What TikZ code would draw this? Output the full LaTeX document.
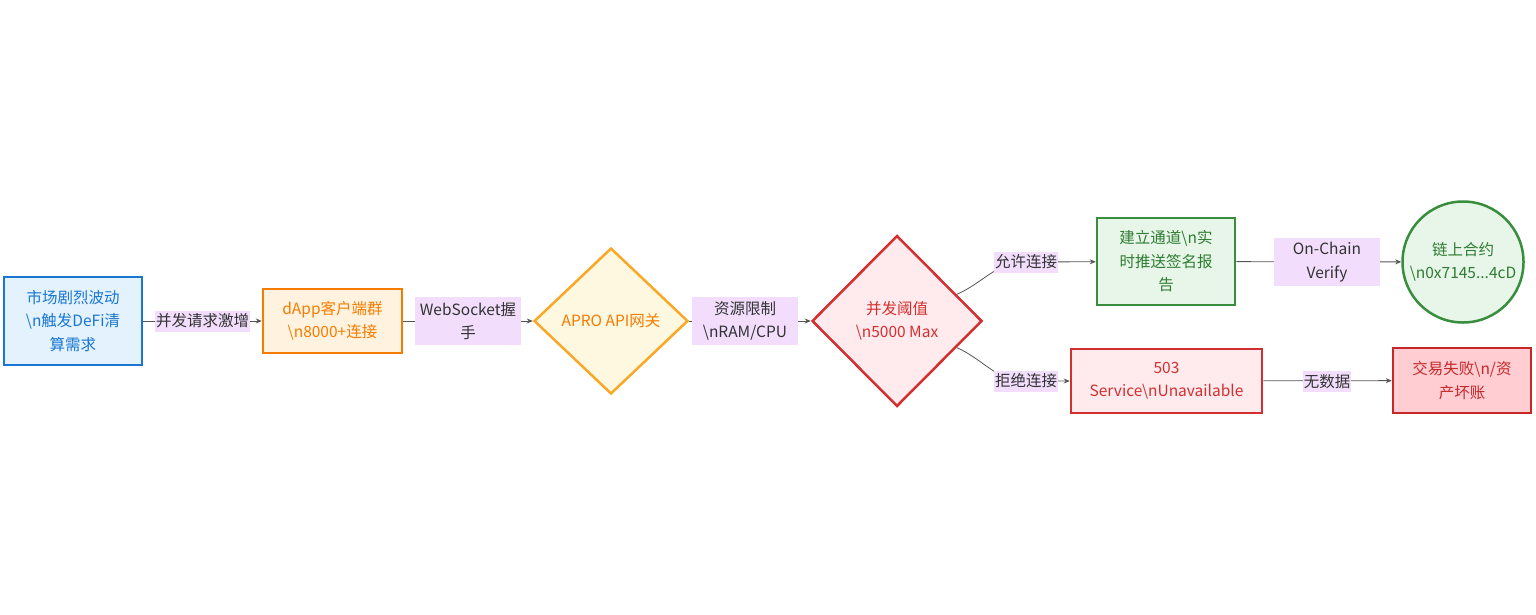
\documentclass[tikz,border=0pt]{standalone}
\usepackage{fontspec}
\setmainfont{Noto Sans CJK SC}
\usetikzlibrary{shapes.geometric,arrows.meta,backgrounds}
\newcommand\fsz{\fontsize{15.5}{23.5}\selectfont}
\definecolor{lav}{HTML}{F2DEFC}
\definecolor{txtc}{HTML}{333333}
\definecolor{edgec}{HTML}{555555}
\definecolor{bluB}{HTML}{1976D2}\definecolor{bluF}{HTML}{E3F2FD}
\definecolor{orgB}{HTML}{F57C00}\definecolor{orgF}{HTML}{FFF3E0}
\definecolor{ambB}{HTML}{F9A825}\definecolor{ambF}{HTML}{FFF8E1}
\definecolor{redB}{HTML}{D32F2F}\definecolor{redF}{HTML}{FFEBEE}
\definecolor{grnB}{HTML}{388E3C}\definecolor{grnF}{HTML}{E8F5E9}\definecolor{grnT}{HTML}{2E7D32}
\definecolor{dredB}{HTML}{C62828}\definecolor{dredF}{HTML}{FFCDD2}
\begin{document}
\begin{tikzpicture}[x=1pt,y=-1pt,
  box/.style={draw, line width=2.5pt, inner sep=0pt, align=center, font=\fsz},
  dia/.style={diamond, draw, line width=2.5pt, inner sep=0pt, font=\fsz},
  lbl/.style={fill=lav, inner xsep=1pt, inner ysep=0pt, minimum height=21pt, text=txtc, font=\fsz, align=center},
  lblw/.style={lbl, text width=104pt, minimum height=48pt},
  edge/.style={draw=edgec, line width=0.8pt, -{Stealth[length=6pt,width=5pt]}}]
\useasboundingbox (0,0) rectangle (1536,614);
% nodes
\node[box, draw=bluB, fill=bluF, text=bluB, minimum width=138pt, minimum height=88pt] (n1) at (73,321)
  {市场剧烈波动\\\textbackslash n触发DeFi清\\算需求};
\node[box, draw=orgB, fill=orgF, text=orgB, minimum width=139pt, minimum height=64pt] (n2) at (332.5,321)
  {dApp客户端群\\\textbackslash n8000+连接};
\node[dia, draw=ambB, fill=ambF, text=orgB, minimum width=154pt, minimum height=146pt] (n3) at (611,321)
  {\makebox[0pt]{APRO API网关}};
\node[dia, draw=redB, fill=redF, minimum width=170pt, minimum height=171pt,
  label={[name=n4t, font=\fsz, text=redB, align=center]center:并发阈值\\\textbackslash n5000 Max}] (n4) at (897,321) {};
\node[box, draw=grnB, fill=grnF, text=grnT, minimum width=138pt, minimum height=87pt] (n5) at (1166,261.5)
  {建立通道\textbackslash n实\\时推送签名报\\告};
\node[box, draw=redB, fill=redF, text=redB, minimum width=191pt, minimum height=64pt] (n6) at (1166.5,381)
  {503\\Service\textbackslash nUnavailable};
\node[circle, draw=grnB, fill=grnF, text=grnT, line width=2.5pt, inner sep=0pt, minimum size=121pt, align=center, font=\fsz] (n7) at (1463,262)
  {链上合约\\\textbackslash n0x7145...4cD};
\node[box, draw=dredB, fill=dredF, text=dredB, minimum width=138pt, minimum height=65pt] (n8) at (1462,380.5)
  {交易失败\textbackslash n/资\\产坏账};
% edge labels
\node[lbl] (l1) at (202.5,321) {并发请求激增};
\node[lblw] (l2) at (468,321) {WebSocket握\\手};
\node[lblw] (l3) at (745,321) {资源限制\\\textbackslash nRAM/CPU};
\node[lbl] (l4) at (1026,262) {允许连接};
\node[lbl] (l5) at (1026,381) {拒绝连接};
\node[lblw] (l6) at (1327,262) {On-Chain\\Verify};
\node[lbl] (l7) at (1327,381.5) {无数据};
% edges
\begin{pgfonlayer}{background}
\draw[edge] (n1) -- (n2);
\draw[edge] (n2) -- (n3);
\draw[edge] (n3) -- (n4);
\draw[edge] (n4.24) to[out=24,in=180] (l4.center) -- (n5);
\draw[edge] (n4.-24) to[out=-24,in=180] (l5.center) -- (n6);
\draw[edge] (n5) -- (n7);
\draw[edge] (n6) -- (n8);
\end{pgfonlayer}
\end{tikzpicture}
\end{document}
